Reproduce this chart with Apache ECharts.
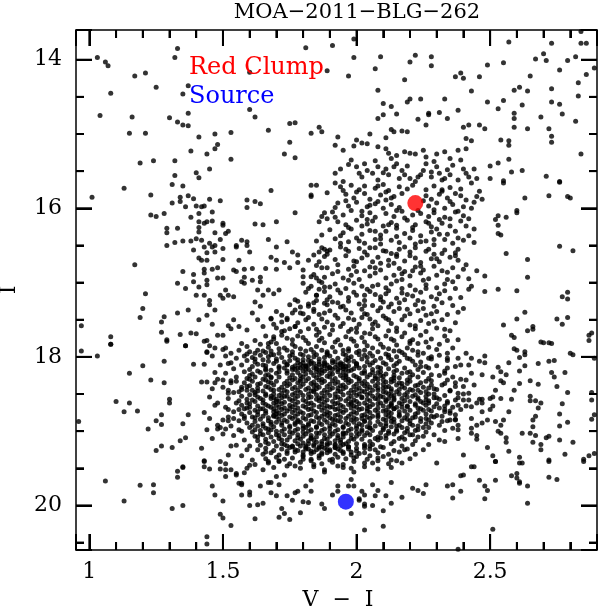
<!DOCTYPE html>
<html><head><meta charset="utf-8">
<script src="https://cdn.jsdelivr.net/npm/echarts@6/dist/echarts.min.js"></script>
<style>html,body{margin:0;padding:0;background:#fff}#c{width:600px;height:612px}</style>
</head><body><div id="c"></div>
<script>
const titleText = 'MOA\u22122011\u2212BLG\u2212262';
const xName = 'V  \u2212  I';
const yName = 'I';
const legendRed = 'Red Clump';
const legendBlue = 'Source';
const xMajorTicks = [1, 1.5, 2, 2.5];
const xMinorTicks = [1.0,1.1,1.2,1.3,1.4,1.5,1.6,1.7,1.8,1.9,2.0,2.1,2.2,2.3,2.4,2.5,2.6,2.7,2.8,2.9];
const yMajorTicks = [14, 16, 18, 20];
const yMinorTicks = [14,14.5,15,15.5,16,16.5,17,17.5,18,18.5,19,19.5,20,20.5];
const redClump = [[2.22, 15.93]];
const source = [[1.96, 19.95]];

const fieldTop = [
1.03,13.97,1.06,14.03,1.07,14.08,1.08,14.45,1.04,14.75,1.17,14.22,1.21,14.18,1.25,14.37,1.16,14.77,1.15,14.99,1.21,14.99,1.19,15.39,1.24,15.36,
1.33,13.85,1.32,13.97,1.35,14.46,1.37,14.35,1.30,14.78,1.33,14.84,1.35,14.88,1.37,14.72,1.37,14.89,1.41,15.04,1.47,15.00,1.53,14.98,1.38,15.23,
1.44,15.27,1.47,15.20,1.48,15.14,1.53,15.34,1.32,15.36,1.45,15.47,1.40,15.52,1.41,15.59,1.32,15.56,1.60,14.17,1.60,14.67,1.62,14.77,1.67,14.95,
1.75,14.86,1.77,14.85,1.75,15.11,1.73,15.27,1.77,15.32,1.81,13.84,1.91,13.81,1.89,14.15,1.99,13.72,1.99,13.97,1.97,14.22,2.07,14.12,2.09,13.96,
2.08,14.41,2.18,14.27,2.20,14.03,2.22,13.94,2.28,13.96,2.28,14.08,2.37,14.23,2.39,14.18,2.40,14.25,2.46,14.23,2.43,14.42,2.49,14.07,2.55,14.04,
2.57,13.76,2.59,14.41,2.61,14.37,2.64,14.42,2.65,14.22,2.70,13.92,2.67,13.99,2.71,14.01,2.73,13.78,2.73,14.39,2.76,14.14,2.79,14.01,2.82,13.96,
2.84,13.62,2.84,13.78,2.86,13.78,2.83,14.31,2.86,14.20,2.89,14.11,2.62,14.61,2.59,14.79,2.59,14.91,2.73,14.57,2.76,14.60,2.69,14.77,2.77,14.73,
2.83,14.49,2.82,14.83,2.54,15.08,2.62,15.49,2.50,15.60,2.55,15.63,2.10,14.74,2.08,14.79,2.27,14.74,1.87,14.97,2.00,15.08,
2.10,14.59,2.13,14.63,2.15,14.73,2.20,14.53,2.24,14.53,2.19,14.57,2.23,14.80,2.27,14.72,2.26,14.88,2.31,14.71,2.33,14.53,2.34,14.79,2.38,14.68,
2.40,14.91,2.42,14.88,2.46,14.88,2.48,14.93,2.49,14.57,2.53,14.66,2.55,14.55,2.59,14.72,1.83,14.99,1.86,14.91,1.93,15.04,1.92,15.15,1.95,15.22,
1.99,15.16,2.02,15.12,2.05,15.00,2.11,15.05,2.13,14.94,2.14,14.97,2.17,14.96,2.19,14.97,2.04,15.13,2.08,15.17,2.11,15.20,2.12,15.26,2.15,15.29,
2.18,15.24,2.20,15.26,2.22,15.27,2.25,15.22,2.26,15.31,2.30,15.27,2.33,15.24,2.35,15.33,2.38,15.22,2.39,15.35,2.41,15.06,2.43,15.09,2.41,15.20,
2.44,15.47,2.50,15.43,2.53,15.39,2.57,15.34,2.58,15.51,2.57,15.09,2.57,15.15,2.64,14.93,2.72,14.93,2.73,15.03,2.73,15.11,2.84,15.27,2.71,15.57,
2.76,15.65,2.79,15.84,2.80,15.86
];

const giantBranch = [
1.92,15.53,1.92,15.66,1.95,15.64,1.98,15.35,2.00,15.44,2.01,15.53,2.03,15.40,2.04,15.49,2.06,15.53,2.08,15.44,2.08,15.62,2.11,15.47,2.12,15.55,
2.14,15.44,2.15,15.40,2.17,15.49,2.18,15.55,2.20,15.60,2.22,15.64,2.23,15.58,2.25,15.49,2.26,15.40,2.28,15.51,2.30,15.44,2.31,15.53,2.33,15.60,
2.34,15.48,2.35,15.55,2.38,15.62,2.40,15.47,2.42,15.58,2.43,15.66,1.85,15.69,1.83,15.84,1.89,15.79,
1.94,15.71,1.98,15.69,2.01,15.75,2.03,15.70,2.07,15.73,2.10,15.68,2.12,15.76,2.16,15.71,2.19,15.74,2.21,15.69,2.26,15.75,2.29,15.70,2.32,15.77,2.35,15.72,2.39,15.74,2.46,15.77,
1.96,15.81,1.99,15.86,2.03,15.80,2.05,15.88,2.09,15.82,2.11,15.89,2.14,15.84,2.17,15.80,2.26,15.83,2.28,15.88,2.31,15.81,2.34,15.86,2.37,15.80,2.41,15.89,2.45,15.84,
1.93,15.93,1.97,15.97,2.00,15.92,2.04,15.98,2.07,15.94,2.10,16.00,2.13,15.95,2.16,15.99,2.27,15.97,2.30,15.93,2.33,16.00,2.36,15.95,2.40,15.98,2.44,15.92,
1.91,16.05,1.95,16.09,1.98,16.03,2.02,16.10,2.05,16.06,2.07,16.12,2.11,16.07,2.14,16.11,2.17,16.04,2.21,16.09,2.23,16.03,2.27,16.11,2.29,16.06,2.33,16.12,2.37,16.05,2.40,16.10,2.42,16.14,
1.93,16.18,1.96,16.22,2.00,16.16,2.04,16.21,2.06,16.17,2.10,16.24,2.13,16.19,2.15,16.23,2.19,16.16,2.22,16.22,2.26,16.18,2.28,16.25,2.32,16.20,2.35,16.24,2.39,16.17,
1.90,16.29,1.95,16.33,1.98,16.28,2.02,16.35,2.05,16.30,2.09,16.36,2.11,16.31,2.15,16.27,2.18,16.34,2.21,16.30,2.24,16.37,2.28,16.32,2.30,16.28,2.34,16.35,2.37,16.31,2.42,16.37,
1.92,16.41,1.97,16.45,2.00,16.40,2.03,16.47,2.07,16.42,2.09,16.48,2.13,16.43,2.16,16.46,2.20,16.40,2.22,16.48,2.26,16.44,2.29,16.49,2.33,16.42,2.36,16.47,2.40,16.43,
1.87,16.53,1.90,16.56,1.94,16.52,1.97,16.58,2.01,16.54,2.03,16.59,2.07,16.53,2.10,16.57,2.13,16.61,2.16,16.55,2.20,16.59,2.22,16.53,2.26,16.58,2.29,16.62,2.33,16.56,2.37,16.60,
1.88,16.65,1.92,16.69,1.96,16.64,1.99,16.71,2.02,16.67,2.06,16.72,2.08,16.66,2.12,16.70,2.15,16.65,2.18,16.71,2.22,16.67,2.24,16.73,2.28,16.68,2.31,16.72,2.35,16.66,2.38,16.70,
1.85,16.77,1.89,16.80,1.93,16.76,1.97,16.82,1.99,16.78,2.03,16.84,2.05,16.79,2.09,16.83,2.12,16.77,2.16,16.81,2.18,16.85,2.22,16.79,2.25,16.83,2.29,16.78,2.32,16.84,2.36,16.80,
1.84,16.89,1.88,16.93,1.91,16.88,1.95,16.94,1.98,16.90,2.01,16.96,2.05,16.91,2.07,16.87,2.11,16.94,2.14,16.90,2.17,16.96,2.20,16.91,2.24,16.87,2.27,16.95,2.30,16.90,2.34,16.96,2.38,16.92,
1.80,17.01,1.83,17.05,1.87,17.00,1.90,17.06,1.92,17.02,1.96,17.08,1.99,17.01,2.02,17.05,2.04,17.09,2.08,17.03,2.11,17.07,2.13,17.02,2.17,17.08,2.20,17.04,2.22,17.10,2.26,17.03,2.30,17.07,2.33,17.02,2.37,17.08,
1.81,17.13,1.85,17.17,1.88,17.12,1.90,17.19,1.94,17.14,1.97,17.20,1.99,17.13,2.03,17.17,2.05,17.12,2.09,17.19,2.11,17.15,2.15,17.21,2.17,17.14,2.21,17.18,2.24,17.13,2.28,17.19,2.31,17.15,2.35,17.21,
1.78,17.25,1.82,17.29,1.85,17.24,1.89,17.30,1.91,17.26,1.95,17.32,1.97,17.25,2.01,17.29,2.03,17.24,2.06,17.31,2.10,17.26,2.12,17.33,2.16,17.27,2.18,17.23,2.22,17.30,2.25,17.26,2.29,17.32,2.32,17.27,2.36,17.31,
1.77,17.37,1.80,17.42,1.84,17.36,1.86,17.43,1.90,17.38,1.92,17.44,1.96,17.37,1.98,17.41,2.02,17.36,2.04,17.43,2.08,17.38,2.10,17.45,2.14,17.39,2.16,17.35,2.20,17.42,2.23,17.38,2.26,17.44,2.30,17.39,2.34,17.43,
1.68,17.49,1.72,17.53,1.74,17.48,1.78,17.54,1.81,17.50,1.84,17.56,1.87,17.49,1.89,17.53,1.93,17.48,1.95,17.55,1.99,17.50,2.01,17.56,2.05,17.49,2.07,17.53,2.11,17.48,2.13,17.55,2.17,17.50,2.20,17.57,2.24,17.51,2.27,17.55,2.32,17.50,2.37,17.54,
1.70,17.61,1.73,17.65,1.77,17.59,1.79,17.66,1.82,17.62,1.86,17.67,1.88,17.60,1.91,17.64,1.94,17.59,1.97,17.66,2.00,17.61,2.03,17.68,2.06,17.62,2.08,17.58,2.12,17.65,2.15,17.61,2.18,17.68,2.22,17.62,2.26,17.66,2.30,17.61,2.35,17.65,
1.66,17.72,1.69,17.76,1.72,17.71,1.76,17.77,1.78,17.72,1.81,17.78,1.85,17.71,1.87,17.75,1.90,17.70,1.93,17.77,1.96,17.73,1.99,17.79,2.02,17.74,2.05,17.69,2.08,17.76,2.11,17.72,2.14,17.78,2.17,17.73,2.21,17.77,2.24,17.71,2.28,17.76,2.33,17.72,2.38,17.77,
1.64,17.83,1.67,17.87,1.70,17.82,1.73,17.88,1.76,17.83,1.79,17.89,1.82,17.82,1.85,17.86,1.88,17.81,1.91,17.87,1.94,17.84,1.97,17.89,2.00,17.85,2.03,17.80,2.06,17.88,2.09,17.83,2.12,17.89,2.15,17.84,2.19,17.88,2.23,17.82,2.27,17.87,2.31,17.83,2.36,17.88,
1.95,15.76,2.08,15.91,2.31,16.15,2.18,16.52,1.94,16.47,2.09,16.74,2.25,16.97,1.86,17.09,2.13,17.29,2.02,17.47,1.98,17.63,2.20,17.82,2.38,16.55,
2.41,16.76,2.43,17.05,2.40,17.35,1.82,16.70,1.80,16.92,1.87,16.36,1.89,16.14,2.44,16.28,2.15,16.62,2.00,16.85,2.28,17.42,1.93,17.27
];

const giantBranchExtra = [
1.97,15.41,2.02,15.58,2.07,15.36,2.10,15.52,2.16,15.60,2.19,15.43,2.24,15.55,2.29,15.37,2.32,15.62,2.36,15.42,2.41,15.53,2.45,15.60,1.94,15.47,2.13,15.33,2.28,15.58,
1.96,15.90,2.00,15.78,2.05,15.96,2.08,15.70,2.13,15.86,2.15,16.03,2.25,15.90,2.29,16.02,2.32,15.75,2.35,15.91,2.39,15.83,2.43,16.00,2.47,15.88,1.92,15.99,2.02,16.04,2.11,15.78,2.38,16.04,2.24,16.07,
1.92,16.12,1.97,16.26,2.01,16.44,2.04,16.15,2.07,16.31,2.12,16.22,2.15,16.38,2.18,16.13,2.21,16.26,2.24,16.45,2.27,16.20,2.31,16.35,2.35,16.14,2.38,16.40,2.41,16.24,2.44,16.46,1.94,16.37,2.09,16.41,2.29,16.42,2.02,16.24,
1.89,16.62,1.93,16.85,1.96,16.55,2.00,16.72,2.04,16.63,2.07,16.80,2.11,16.58,2.14,16.74,2.17,16.88,2.20,16.64,2.24,16.78,2.27,16.55,2.30,16.68,2.34,16.86,2.37,16.64,2.40,16.82,1.87,16.80,2.05,16.53,2.21,16.84,2.32,16.61,
1.82,17.08,1.86,16.98,1.89,17.23,1.93,17.10,1.97,16.97,2.00,17.17,2.03,17.31,2.06,17.05,2.09,17.23,2.12,17.11,2.15,16.98,2.19,17.16,2.23,17.24,2.26,17.08,2.30,17.22,2.33,17.11,2.36,16.99,2.39,17.20,1.84,17.27,2.07,17.16,
1.72,17.44,1.75,17.62,1.79,17.33,1.82,17.47,1.85,17.63,1.88,17.41,1.91,17.57,1.94,17.33,1.97,17.48,2.00,17.67,2.03,17.42,2.06,17.56,2.09,17.34,2.12,17.50,2.15,17.66,2.18,17.45,2.22,17.58,2.25,17.35,2.29,17.52,2.33,17.63,2.38,17.40,1.69,17.56,1.76,17.41,2.19,17.36,
1.62,17.78,1.65,17.92,1.68,17.80,1.71,17.89,1.74,17.75,1.77,17.86,1.80,17.74,1.83,17.90,1.86,17.78,1.89,17.93,1.92,17.80,1.95,17.91,1.98,17.76,2.01,17.92,2.04,17.85,2.07,17.73,2.10,17.87,2.13,17.76,2.16,17.92,2.20,17.79,2.23,17.93,2.26,17.80,2.30,17.90,2.34,17.78
];

const leftPlume = [
1.01,15.85,1.13,15.73,1.23,15.82,1.17,16.76,1.21,17.15,1.20,17.35,1.19,17.47,1.08,17.73,1.08,17.83,0.97,17.58,1.23,16.09,1.25,16.11,1.28,16.07,
1.31,15.68,1.35,15.70,1.31,15.93,1.34,15.85,1.34,15.91,1.37,15.83,1.39,15.87,1.36,15.98,1.40,15.97,1.42,15.98,1.43,15.97,1.41,16.07,1.38,16.12,
1.46,16.05,1.45,15.88,1.49,15.90,1.29,16.27,1.29,16.33,1.33,16.27,1.29,16.50,1.32,16.46,1.35,16.44,1.38,16.44,1.40,16.41,1.42,16.43,1.41,16.26,
1.41,16.32,1.41,16.18,1.43,16.20,1.44,16.18,1.46,16.17,1.47,16.33,1.50,16.20,1.50,16.23,1.52,16.31,1.51,16.34,1.49,16.42,1.50,16.54,1.47,16.50,
1.45,16.47,1.46,16.52,1.43,16.52,1.39,16.56,1.44,16.60,1.47,16.59,1.41,16.67,1.42,16.70,1.44,16.70,1.50,16.69,1.48,16.80,1.46,16.82,1.43,16.82,
1.43,16.87,1.39,16.89,1.35,16.85,1.33,17.01,1.36,17.08,1.39,16.99,1.41,17.06,1.44,16.97,1.44,17.03,1.48,16.94,1.50,16.94,1.51,17.10,1.49,17.17,
1.50,17.21,1.52,17.17,1.54,17.19,1.43,17.17,1.40,17.17,1.45,17.24,1.45,17.30,1.47,17.37,1.44,17.44,1.37,17.37,1.33,17.41,1.41,17.50,1.46,17.56,
1.52,17.58,1.53,17.62,1.48,17.71,1.50,17.71,1.47,17.88,1.44,17.93,1.51,17.88,1.44,17.78,1.38,17.68,1.40,17.69,1.34,17.70,1.27,17.53,1.27,17.67,
1.29,17.77,1.36,17.85,1.28,17.46,1.55,16.50,1.55,16.52,1.57,16.43,1.59,16.45,1.59,16.50,1.60,16.59,1.56,16.70,1.54,16.83,1.55,16.85,1.58,16.82,
1.61,16.81,1.58,16.93,1.57,16.99,1.58,17.01,1.61,16.97,1.64,16.93,1.64,16.99,1.66,16.81,1.68,16.66,1.70,16.70,1.73,16.73,1.70,16.82,1.75,16.80,
1.78,16.73,1.80,16.83,1.76,16.59,1.78,16.63,1.74,16.45,1.70,16.52,1.67,16.42,1.59,15.89,1.59,15.99,1.62,15.91,1.64,15.94,1.62,16.21,1.65,16.22,
1.68,15.76,1.70,16.18,1.77,16.06,1.83,15.69,1.83,15.82,1.86,16.18,1.87,16.11,1.88,16.06,1.85,16.44,1.88,16.55,1.86,16.59,1.84,16.63,1.86,16.72,
1.89,16.58,1.83,16.92,1.85,16.94,1.65,17.17,1.67,17.10,1.69,17.15,1.71,17.10,1.63,17.10,1.62,17.26,1.64,17.32,1.61,17.41,1.63,17.50,1.59,17.64,
1.56,17.59,1.54,17.50,1.57,17.82,1.59,17.86,1.62,17.95,1.67,17.82,1.69,17.73,1.72,17.66,1.77,17.59,1.74,17.50,1.79,17.41,1.82,17.32,1.84,17.39,
1.77,17.23,1.75,17.30,1.85,17.17,1.88,17.06,1.88,17.28,1.70,17.39,1.68,17.48,1.65,17.59
];

const leftLower = [
0.97,17.92,1.03,17.99,1.08,17.83,0.96,18.87,1.15,18.22,1.20,18.12,1.23,18.31,1.28,18.35,1.28,18.06,1.10,18.60,1.15,18.62,1.13,18.74,1.18,18.73,
1.30,18.57,1.30,18.62,1.29,17.79,1.36,17.85,1.43,17.79,1.45,17.85,1.44,17.94,1.46,17.99,1.39,18.10,1.43,18.10,1.47,18.21,1.42,18.34,1.44,18.34,
1.47,18.35,1.46,18.43,1.45,18.54,1.48,18.62,1.37,18.78,1.43,18.75,1.27,18.78,1.25,18.86,1.27,18.91,1.22,18.97,1.35,18.90,1.45,18.83,1.44,18.98,
1.36,19.09,1.34,19.13,1.31,19.22,1.27,19.20,1.25,19.26,1.42,19.23,1.43,19.40,1.43,19.48,1.45,19.51,1.35,19.49,1.33,19.54,1.33,19.62,1.06,19.67,
1.19,19.73,1.24,19.72,1.46,19.74,1.48,18.92,1.50,18.85,1.52,18.86,1.48,18.97,1.50,19.04,1.51,18.97,1.53,19.20,1.52,19.32,1.49,19.41,1.51,19.44,
1.49,19.51,1.51,19.61,1.55,19.57,1.57,19.70,1.50,17.90,1.51,17.99,1.49,18.11,1.53,18.08,1.50,18.31,1.52,18.45,1.52,18.49,1.53,18.32,1.55,18.33,
1.52,18.71,1.54,18.83
];

const bottomField = [
1.13,19.94,1.24,19.83,1.35,19.48,1.31,20.04,1.35,20.00,1.43,19.41,1.44,20.42,1.44,20.52,1.47,19.86,1.50,19.94,1.49,20.12,1.50,20.17,1.53,20.27,
1.51,19.52,1.53,19.52,1.55,19.59,1.56,19.70,1.57,19.72,1.59,19.50,1.58,19.56,1.57,19.86,1.60,19.82,1.60,20.00,1.60,19.86,1.62,20.18,1.63,19.99,
1.65,19.97,1.64,19.74,1.67,19.69,1.68,19.69,1.65,19.52,1.67,19.41,1.68,19.83,1.70,19.87,1.71,20.16,1.72,20.04,1.73,20.11,1.74,19.87,1.75,20.19,
1.76,19.93,1.77,19.83,1.78,19.81,1.79,20.10,1.71,19.72,1.70,19.61,1.73,19.59,1.80,19.95,1.82,19.96,1.83,19.81,1.81,19.74,1.83,19.66,1.87,19.98,
1.88,20.04,1.91,19.86,1.93,19.81,1.93,19.74,1.97,19.74,1.98,19.65,1.99,19.74,2.01,19.91,2.02,19.81,2.03,19.86,1.98,20.11,2.01,19.93,2.03,20.01,
2.03,19.98,2.06,20.00,2.03,20.33,2.06,19.72,2.07,19.87,2.08,19.80,2.10,20.07,2.11,19.87,2.10,20.28,2.13,19.69,2.13,19.97,2.17,19.89,2.21,19.77,
2.23,19.80,2.25,19.84,2.26,19.72,2.27,20.15,2.30,19.43,2.34,19.74,2.36,19.72,2.36,19.90,2.39,19.81,2.39,19.60,2.40,19.59,2.43,19.48,2.46,19.66,
2.48,19.74,2.49,19.80,2.48,19.91,2.51,20.32,2.52,19.66,2.58,19.60,2.60,19.57,2.61,19.68,2.64,19.74,2.64,19.97,2.72,19.62,2.75,19.65,2.38,20.59,
2.52,19.41,2.62,19.43,2.72,19.41,2.85,19.41
];

const rightSide = [
2.55,15.66,2.76,15.64,2.72,15.83,2.63,15.86,2.60,16.03,2.60,16.06,2.56,16.12,2.53,16.10,2.52,16.15,2.53,16.23,2.53,16.34,2.54,16.36,2.56,16.61,
2.76,16.51,2.81,16.57,2.64,16.69,2.64,16.93,2.53,17.09,2.60,17.11,2.48,17.12,2.77,17.19,2.79,17.13,2.79,17.22,2.63,17.40,2.60,17.49,2.55,17.57,
2.66,17.59,2.66,17.63,2.58,17.71,2.59,17.74,2.64,17.65,2.70,17.81,2.73,17.82,2.75,17.49,2.79,17.47,2.77,17.56,2.87,17.71,2.88,17.68,2.87,17.78,
2.60,17.91,2.63,17.97,2.81,17.97,2.89,18.02,2.45,16.84,2.42,16.95,2.42,17.09,2.48,16.91,
2.59,17.89,2.63,17.93,2.61,18.01,2.69,17.80,2.72,17.81,2.80,17.95,2.57,18.08,2.53,18.14,2.54,18.20,2.56,18.24,2.51,18.27,2.54,18.32,2.55,18.35,
2.61,18.19,2.63,18.12,2.68,18.09,2.72,18.06,2.74,18.05,2.73,18.21,2.74,18.27,2.78,18.21,2.75,18.40,2.79,18.48,2.88,18.48,2.88,18.58,2.89,18.78,
2.88,18.84,2.65,18.32,2.68,18.37,2.65,18.53,2.65,18.59,2.67,18.59,2.69,18.62,2.59,18.45,2.61,18.36,2.58,18.57,2.54,18.56,2.52,18.45,2.50,18.56,
2.51,18.66,2.50,18.71,2.47,18.57,2.47,18.62,2.57,18.74,2.68,18.69,2.67,18.80,2.66,18.85,2.77,18.63,2.76,18.77,2.79,18.88,2.76,18.93,2.66,18.94,
2.55,18.85,2.54,18.92,2.53,19.00,2.54,19.03,2.56,19.09,2.56,19.15,2.62,19.03,2.65,19.03,2.67,19.06,2.66,19.15,2.69,19.18,2.69,19.25,2.71,19.09,
2.72,19.07,2.76,19.12,2.81,19.15,2.78,19.31,2.72,19.39,2.85,19.38,2.87,19.33,2.89,19.30,2.61,19.35,2.61,19.43,2.57,19.27,2.51,19.33,2.52,19.41,
2.49,19.22,2.45,19.06,2.45,19.11,2.44,19.48,2.60,19.63,2.61,19.70,2.40,19.32,2.38,19.10,2.33,19.14,2.49,18.85,2.47,18.89,2.43,19.03,2.43,18.96,
2.45,18.92,2.43,18.83,2.52,18.87,2.47,18.24,2.51,18.54,2.48,17.99,2.48,18.08,2.46,18.06,2.43,18.02,2.42,18.11,2.39,18.11,2.37,18.13,2.38,18.02,
2.34,18.02,2.34,17.95,2.41,17.95,2.43,18.22,2.41,18.31,2.39,18.30,2.40,18.40,2.37,18.35,2.36,18.27,2.34,18.15,2.33,18.22,2.35,18.45,2.38,18.49,
2.40,18.50,2.42,18.49,2.44,18.38,2.42,18.58,2.40,18.58,2.41,18.66,2.43,18.67,2.45,18.62,2.46,18.57,2.47,18.74,2.39,18.71,2.37,18.78,2.35,18.76,
2.33,18.74,2.35,18.85,2.37,18.85,2.38,18.92,2.36,18.96,2.38,18.98,2.34,18.62,2.33,18.71,2.32,18.87,2.33,18.36,2.37,18.58,2.38,18.65
];

const blobInner = [
1.60,17.93,1.63,17.91,1.66,17.94,1.68,17.92,1.71,17.95,1.74,17.91,1.76,17.93,1.79,17.96,1.81,17.92,1.84,17.94,1.87,17.91,1.89,17.95,1.92,17.93,1.95,17.96,1.97,17.92,2.00,17.94,2.03,17.91,2.05,17.95,2.08,17.93,2.11,17.96,2.14,17.92,2.17,17.94,2.21,17.91,2.25,17.95,
1.58,17.99,1.61,18.01,1.64,17.98,1.67,18.00,1.69,17.97,1.72,18.01,1.75,17.99,1.77,18.02,1.80,17.98,1.82,18.00,1.85,17.97,1.88,18.01,1.90,17.99,1.93,18.02,1.96,17.98,1.98,18.00,2.01,17.97,2.04,18.01,2.06,17.99,2.09,18.02,2.12,17.98,2.15,18.00,2.19,18.02,2.23,17.98,2.28,18.00,
1.59,18.05,1.62,18.07,1.65,18.04,1.67,18.06,1.70,18.03,1.73,18.07,1.75,18.05,1.78,18.08,1.80,18.04,1.83,18.06,1.86,18.03,1.88,18.07,1.91,18.05,1.94,18.08,1.96,18.04,1.99,18.06,2.02,18.03,2.04,18.07,2.07,18.05,2.10,18.08,2.13,18.04,2.16,18.06,2.20,18.03,2.24,18.07,
1.57,18.11,1.61,18.13,1.63,18.10,1.66,18.12,1.69,18.09,1.71,18.13,1.74,18.11,1.76,18.14,1.79,18.10,1.81,18.12,1.84,18.09,1.87,18.13,1.89,18.11,1.92,18.14,1.95,18.10,1.97,18.12,2.00,18.09,2.03,18.13,2.05,18.11,2.08,18.14,2.11,18.10,2.14,18.12,2.18,18.15,2.22,18.11,2.26,18.13,
1.60,18.17,1.63,18.19,1.66,18.16,1.68,18.18,1.71,18.15,1.74,18.19,1.77,18.17,1.79,18.15,1.82,18.17,1.85,18.16,1.87,18.18,1.90,18.15,1.93,18.17,1.95,18.16,1.98,18.18,2.01,18.15,2.03,18.19,2.06,18.17,2.09,18.20,2.12,18.16,2.15,18.18,2.19,18.21,2.23,18.17,
1.61,18.23,1.64,18.21,1.67,18.24,1.70,18.22,1.74,18.22,2.02,18.22,2.05,18.24,2.08,18.21,2.11,18.23,2.14,18.25,2.17,18.22,2.21,18.24,2.25,18.21,
1.59,18.29,1.62,18.27,1.65,18.30,1.68,18.28,1.71,18.27,2.04,18.27,2.07,18.29,2.10,18.26,2.13,18.30,2.16,18.28,2.19,18.31,2.23,18.27,2.27,18.29,
1.58,18.35,1.61,18.33,1.64,18.36,1.67,18.34,1.70,18.33,2.06,18.33,2.08,18.36,2.11,18.34,2.14,18.32,2.17,18.36,2.20,18.33,2.24,18.35,2.28,18.32,
1.57,18.41,1.60,18.39,1.63,18.42,1.66,18.40,1.69,18.38,2.07,18.39,2.10,18.42,2.12,18.40,2.15,18.38,2.18,18.42,2.22,18.39,2.25,18.41,2.29,18.43,
1.56,18.47,1.59,18.45,1.62,18.48,1.65,18.46,1.68,18.44,2.08,18.45,2.11,18.48,2.13,18.46,2.16,18.44,2.19,18.48,2.23,18.45,2.26,18.47,2.30,18.44,
1.57,18.53,1.60,18.51,1.63,18.54,1.66,18.52,1.69,18.50,2.08,18.51,2.10,18.54,2.13,18.52,2.16,18.50,2.19,18.54,2.22,18.51,2.26,18.53,2.29,18.55,
1.56,18.59,1.59,18.57,1.62,18.60,1.65,18.58,1.68,18.56,2.08,18.57,2.11,18.60,2.14,18.58,2.17,18.56,2.20,18.60,2.23,18.57,2.27,18.59,2.31,18.57,
1.57,18.65,1.60,18.63,1.63,18.66,1.66,18.64,1.69,18.62,2.08,18.63,2.10,18.66,2.13,18.64,2.16,18.62,2.19,18.66,2.22,18.63,2.26,18.65,2.30,18.63,
1.56,18.71,1.59,18.69,1.62,18.72,1.65,18.70,1.68,18.68,2.08,18.69,2.11,18.72,2.14,18.70,2.17,18.68,2.20,18.72,2.23,18.69,2.27,18.71,2.31,18.69,
1.57,18.77,1.60,18.75,1.63,18.78,1.66,18.76,1.69,18.74,2.08,18.75,2.11,18.78,2.13,18.76,2.16,18.74,2.19,18.78,2.23,18.75,2.26,18.77,2.30,18.79,
1.58,18.83,1.61,18.81,1.64,18.84,1.67,18.82,1.69,18.80,2.08,18.81,2.10,18.84,2.13,18.82,2.16,18.80,2.19,18.84,2.22,18.81,2.26,18.83,2.29,18.81,
1.59,18.89,1.62,18.87,1.65,18.90,1.68,18.88,2.08,18.87,2.11,18.90,2.14,18.88,2.17,18.86,2.20,18.90,2.24,18.87,2.28,18.89,
1.60,18.95,1.63,18.93,1.66,18.96,1.69,18.94,2.07,18.93,2.10,18.96,2.13,18.94,2.16,18.92,2.19,18.96,2.23,18.93,2.27,18.95,
1.61,19.01,1.64,18.99,1.67,19.02,1.70,19.00,2.06,18.99,2.09,19.02,2.12,19.00,2.15,18.98,2.18,19.02,2.22,18.99,2.26,19.01,
1.62,19.07,1.65,19.05,1.68,19.08,1.71,19.06,2.05,19.05,2.08,19.08,2.11,19.06,2.14,19.04,2.17,19.08,2.21,19.05,2.25,19.07,
1.63,19.13,1.66,19.11,1.69,19.14,1.72,19.12,1.74,19.12,2.02,19.11,2.05,19.14,2.08,19.12,2.11,19.10,2.14,19.14,2.18,19.11,2.22,19.13,
1.64,19.19,1.67,19.17,1.70,19.20,1.73,19.18,1.76,19.21,1.78,19.17,1.81,19.20,1.84,19.18,1.86,19.21,1.89,19.17,1.92,19.19,1.95,19.18,1.97,19.21,2.00,19.17,2.03,19.20,2.06,19.18,2.09,19.21,2.13,19.17,2.17,19.20,2.21,19.18,
1.63,19.25,1.66,19.23,1.69,19.26,1.72,19.24,1.75,19.22,1.78,19.26,1.81,19.24,1.83,19.27,1.86,19.23,1.89,19.25,1.92,19.22,1.94,19.26,1.97,19.24,2.00,19.27,2.03,19.23,2.07,19.25,2.10,19.22,2.14,19.26,2.19,19.24,
1.65,19.31,1.68,19.29,1.71,19.32,1.74,19.30,1.77,19.28,1.80,19.32,1.83,19.30,1.86,19.33,1.89,19.29,1.92,19.31,1.95,19.28,1.98,19.32,2.01,19.30,2.05,19.33,2.08,19.29,2.12,19.31,2.16,19.28,
1.66,19.37,1.70,19.35,1.73,19.38,1.76,19.36,1.80,19.34,1.83,19.38,1.86,19.36,1.90,19.39,1.93,19.35,1.96,19.37,2.00,19.34,2.04,19.38,2.08,19.36,2.13,19.39,
1.67,19.43,1.71,19.41,1.75,19.44,1.79,19.42,1.83,19.40,1.87,19.44,1.91,19.42,1.95,19.45,1.99,19.41,2.03,19.43,2.08,19.40,2.12,19.44,
1.69,19.49,1.74,19.47,1.79,19.50,1.84,19.48,1.88,19.52,1.93,19.47,1.98,19.50,2.03,19.48,2.08,19.51
];

const blobInnerExtra = [
1.59,17.96,1.62,18.03,1.65,18.11,1.68,17.97,1.70,18.06,1.73,18.15,1.76,17.97,1.78,18.04,1.81,18.13,1.84,18.00,1.86,18.10,1.89,17.97,1.92,18.07,
1.95,18.13,1.97,18.02,2.00,18.12,2.03,17.98,2.06,18.08,2.09,18.15,2.12,18.01,2.15,18.09,2.18,17.97,2.21,18.06,2.24,18.13,2.27,18.02,
1.60,18.25,1.63,18.37,1.66,18.31,1.69,18.45,1.62,18.51,1.65,18.62,1.68,18.53,1.60,18.68,1.63,18.74,1.67,18.86,1.70,18.77,1.61,18.92,1.64,19.04,
1.68,18.98,1.71,19.10,1.58,18.80,1.59,18.40,1.66,19.15,
2.07,18.26,2.10,18.31,2.13,18.43,2.16,18.35,2.18,18.51,2.21,18.45,2.24,18.60,2.12,18.56,2.15,18.68,2.18,18.73,2.21,18.82,2.24,18.70,2.27,18.85,
2.12,18.80,2.15,18.93,2.19,19.00,2.23,19.08,2.09,19.09,2.27,18.50,2.29,18.67,2.25,18.95,2.20,18.20,2.28,18.24,2.14,18.20,
1.66,19.28,1.71,19.40,1.74,19.27,1.77,19.47,1.80,19.38,1.84,19.45,1.87,19.31,1.91,19.38,1.95,19.49,1.99,19.36,2.03,19.29,2.06,19.43,2.10,19.34,
2.15,19.40,2.18,19.25,1.88,19.55,1.99,19.55,1.76,19.20,2.05,19.20,
2.14,18.28,2.17,18.40,2.20,18.27,2.23,18.38,2.26,18.33,2.15,18.47,2.18,18.59,2.21,18.53,2.24,18.48,2.27,18.62,2.13,18.66,2.16,18.78,2.19,18.67,
2.22,18.77,2.25,18.72,2.28,18.80,2.14,18.84,2.17,18.95,2.20,18.86,2.23,18.98,2.26,18.90,2.12,19.03,2.16,19.10,2.20,19.05,2.11,18.41,2.14,18.52,
2.17,18.63,2.20,18.44,2.23,18.55,2.26,18.58,2.29,18.50,2.18,18.82,2.21,18.92,2.24,18.83,2.15,19.00,2.13,18.34,2.19,18.36,2.22,18.65,2.25,18.62,
2.28,18.73,2.30,18.55,2.27,18.42,
1.60,18.30,1.63,18.46,1.61,18.58,1.64,18.70,1.62,18.82,1.65,18.93,1.63,19.08,1.66,18.25,1.64,18.56,1.66,18.73,1.62,18.98,1.59,18.62,1.61,18.45
];

const blobOuter = [
1.53,17.95,1.55,18.02,1.52,18.09,1.54,18.16,1.51,18.22,1.55,18.27,1.53,18.35,1.50,18.41,1.54,18.48,1.52,18.56,1.55,18.62,1.51,18.68,1.54,18.74,
1.52,18.81,1.56,18.86,1.53,18.93,1.57,19.00,1.54,19.06,1.58,19.12,1.55,19.19,1.59,19.25,1.57,19.33,1.61,19.39,1.60,19.46,1.48,18.30,1.47,18.65,
1.49,18.95,1.46,19.10,1.56,17.91,1.58,18.20,1.57,18.44,1.58,18.70,1.56,18.98,1.60,19.20,1.62,19.45,
2.31,17.98,2.34,18.05,2.30,18.12,2.33,18.19,2.31,18.25,2.34,18.31,2.32,18.38,2.35,18.46,2.33,18.52,2.34,18.60,2.33,18.66,2.35,18.73,2.32,18.80,
2.34,18.86,2.31,18.92,2.33,18.99,2.29,19.05,2.31,19.12,2.27,19.18,2.25,19.25,2.22,19.31,2.20,19.37,2.17,19.43,2.13,19.49,2.37,18.40,2.38,18.55,
2.36,18.68,2.37,18.84,2.28,18.03,2.27,18.15,2.28,18.38
];

const blobCore = [
1.80,18.08,1.83,18.09,1.86,18.07,1.88,18.09,1.91,18.08,1.94,18.10,
1.77,18.12,1.80,18.13,1.82,18.11,1.85,18.13,1.88,18.12,1.90,18.14,1.93,18.11,1.96,18.13,
1.76,18.17,1.78,18.15,1.81,18.17,1.84,18.15,1.86,18.18,1.89,18.16,1.91,18.17,1.94,18.15,1.96,18.17,1.99,18.16,
1.78,18.21,1.80,18.19,1.83,18.21,1.85,18.20,1.88,18.19,1.90,18.22,1.93,18.20,1.95,18.21,1.97,18.19,
1.76,18.24,1.79,18.25,1.81,18.23,1.84,18.25,1.86,18.24,1.89,18.26,1.91,18.23,1.94,18.25,1.96,18.24,1.99,18.25,
1.75,18.28,1.77,18.29,1.80,18.27,1.82,18.29,1.85,18.28,1.87,18.30,1.90,18.27,1.92,18.29,1.95,18.28,1.97,18.30,2.00,18.27,2.01,18.29,
1.74,18.33,1.76,18.31,1.79,18.33,1.81,18.32,1.84,18.34,1.86,18.31,1.88,18.33,1.91,18.32,1.93,18.34,1.96,18.31,1.98,18.33,2.01,18.32,2.03,18.33,
1.73,18.36,1.75,18.37,1.78,18.35,1.80,18.37,1.83,18.36,1.85,18.38,1.87,18.35,1.90,18.37,1.92,18.36,1.95,18.38,1.97,18.35,2.00,18.37,2.02,18.36,2.04,18.37,
1.72,18.41,1.74,18.39,1.77,18.41,1.79,18.40,1.82,18.42,1.84,18.39,1.86,18.41,1.89,18.40,1.91,18.42,1.94,18.39,1.96,18.41,1.99,18.40,2.01,18.42,2.03,18.39,2.05,18.41,
1.71,18.44,1.73,18.45,1.76,18.43,1.78,18.45,1.81,18.44,1.83,18.46,1.85,18.43,1.88,18.45,1.90,18.44,1.93,18.46,1.95,18.43,1.98,18.45,2.00,18.44,2.02,18.46,2.04,18.43,2.06,18.45,
1.72,18.49,1.74,18.47,1.77,18.49,1.79,18.48,1.82,18.50,1.84,18.47,1.87,18.49,1.89,18.48,1.92,18.50,1.94,18.47,1.97,18.49,1.99,18.48,2.01,18.50,2.03,18.47,2.05,18.49,
1.71,18.52,1.73,18.53,1.76,18.51,1.78,18.53,1.80,18.52,1.83,18.54,1.85,18.51,1.88,18.53,1.90,18.52,1.93,18.54,1.95,18.51,1.98,18.53,2.00,18.52,2.02,18.54,2.04,18.51,2.06,18.53,
1.70,18.57,1.72,18.55,1.75,18.57,1.77,18.56,1.80,18.58,1.82,18.55,1.85,18.57,1.87,18.56,1.89,18.58,1.92,18.55,1.94,18.57,1.97,18.56,1.99,18.58,2.02,18.55,2.04,18.57,2.07,18.56,
1.71,18.60,1.73,18.61,1.76,18.59,1.78,18.61,1.81,18.60,1.83,18.62,1.86,18.59,1.88,18.61,1.91,18.60,1.93,18.62,1.96,18.59,1.98,18.61,2.00,18.60,2.03,18.62,2.05,18.59,
1.70,18.65,1.72,18.63,1.75,18.65,1.77,18.64,1.80,18.66,1.82,18.63,1.84,18.65,1.87,18.64,1.89,18.66,1.92,18.63,1.94,18.65,1.97,18.64,1.99,18.66,2.01,18.63,2.04,18.65,2.06,18.64,
1.71,18.68,1.73,18.69,1.76,18.67,1.78,18.69,1.81,18.68,1.83,18.70,1.86,18.67,1.88,18.69,1.90,18.68,1.93,18.70,1.95,18.67,1.98,18.69,2.00,18.68,2.02,18.70,2.05,18.67,
1.70,18.73,1.72,18.71,1.74,18.73,1.77,18.72,1.79,18.74,1.82,18.71,1.84,18.73,1.87,18.72,1.89,18.74,1.92,18.71,1.94,18.73,1.96,18.72,1.99,18.74,2.01,18.71,2.04,18.73,2.07,18.72,
1.71,18.76,1.73,18.77,1.76,18.75,1.78,18.77,1.80,18.76,1.83,18.78,1.85,18.75,1.88,18.77,1.90,18.76,1.93,18.78,1.95,18.75,1.98,18.77,2.00,18.76,2.03,18.78,2.05,18.75,
1.70,18.81,1.72,18.79,1.75,18.81,1.77,18.80,1.80,18.82,1.82,18.79,1.85,18.81,1.87,18.80,1.90,18.82,1.92,18.79,1.94,18.81,1.97,18.80,1.99,18.82,2.02,18.79,2.04,18.81,2.06,18.80,
1.71,18.84,1.73,18.85,1.76,18.83,1.78,18.85,1.81,18.84,1.83,18.86,1.86,18.83,1.88,18.85,1.91,18.84,1.93,18.86,1.96,18.83,1.98,18.85,2.00,18.84,2.03,18.86,2.05,18.83,
1.72,18.89,1.74,18.87,1.77,18.89,1.79,18.88,1.82,18.90,1.84,18.87,1.86,18.89,1.89,18.88,1.91,18.90,1.94,18.87,1.96,18.89,1.99,18.88,2.01,18.90,2.03,18.87,2.05,18.89,
1.72,18.92,1.75,18.93,1.77,18.91,1.80,18.93,1.82,18.92,1.85,18.94,1.87,18.91,1.90,18.93,1.92,18.92,1.95,18.94,1.97,18.91,2.00,18.93,2.02,18.92,2.04,18.94,
1.73,18.97,1.75,18.95,1.78,18.97,1.80,18.96,1.83,18.98,1.85,18.95,1.88,18.97,1.90,18.96,1.93,18.98,1.95,18.95,1.98,18.97,2.00,18.96,2.02,18.98,2.05,18.96,
1.72,19.00,1.75,19.01,1.77,18.99,1.80,19.01,1.82,19.00,1.85,19.02,1.87,18.99,1.90,19.01,1.92,19.00,1.95,19.02,1.97,18.99,2.00,19.01,2.02,19.00,2.04,19.02,
1.73,19.05,1.76,19.03,1.78,19.05,1.81,19.04,1.83,19.06,1.86,19.03,1.88,19.05,1.91,19.04,1.93,19.06,1.96,19.03,1.98,19.05,2.01,19.04,2.03,19.06,
1.75,19.08,1.78,19.09,1.80,19.07,1.83,19.09,1.85,19.08,1.88,19.10,1.90,19.07,1.93,19.09,1.95,19.08,1.98,19.10,2.00,19.07,
1.77,19.13,1.79,19.11,1.82,19.13,1.84,19.12,1.87,19.14,1.89,19.11,1.92,19.13,1.94,19.12,1.97,19.14,1.99,19.11,
1.80,19.16,1.82,19.17,1.85,19.15,1.87,19.17,1.90,19.16,1.92,19.18,1.94,19.15,1.96,19.17,
1.79,19.20,1.81,19.22,1.84,19.20,1.87,19.21,1.89,19.19,1.92,19.22,1.94,19.20,1.97,19.21,
1.82,19.24,1.85,19.25,1.88,19.23,1.90,19.25,1.93,19.24,1.84,19.28,1.87,19.29,1.90,19.27,
2.08,18.42,2.10,18.47,2.09,18.53,2.11,18.58,2.09,18.62,2.12,18.67,2.10,18.73,2.08,18.79,2.11,18.85,2.09,18.91
];

const blobCoreExtra = [
1.66,18.18,1.68,18.27,1.67,18.41,1.69,18.55,1.67,18.66,1.69,18.79,1.68,18.91,1.70,19.05,1.72,19.17,1.66,18.50,1.68,18.35,1.70,18.60,1.69,18.70,
1.70,18.88,1.67,18.97,1.65,18.80,2.06,18.21,2.08,18.30,2.10,18.37,2.12,18.50,2.13,18.62,2.12,18.74,2.13,18.87,2.10,18.98,2.07,19.10,2.05,19.24,
2.14,18.56,2.14,18.70,2.11,18.93,2.09,18.25,2.03,19.18,2.00,19.23,1.98,19.28,1.77,19.25,1.74,19.20,1.80,19.28,1.95,19.30,1.82,18.05,1.97,18.06,
1.74,18.10,2.00,18.10,1.71,18.20,2.03,18.22,1.79,18.30,1.93,18.42,1.86,18.55,1.98,18.63,1.75,18.70,1.89,18.79,2.02,18.83,1.81,18.95,1.95,19.04,
1.84,18.45,1.91,18.67,1.78,18.87,2.04,18.70,1.87,18.22,1.96,18.26,1.74,18.53,2.05,18.95,1.83,19.10,1.92,18.85
];

function pairs(a) { const r = []; for (let i = 0; i + 1 < a.length; i += 2) r.push([a[i], a[i + 1]]); return r; }
const stars = [].concat(pairs(fieldTop), pairs(giantBranch), pairs(giantBranchExtra), pairs(leftPlume), pairs(leftLower),
  pairs(bottomField), pairs(rightSide), pairs(blobOuter), pairs(blobInner), pairs(blobInnerExtra), pairs(blobCore), pairs(blobCoreExtra));

const FONT = '"DejaVu Serif", "Liberation Serif", serif';
const X_MIN = 0.95, X_MAX = 2.9, Y_MIN = 13.6, Y_MAX = 20.6;
const GRID = { left: 76, top: 30, width: 521, height: 520 };
const frameLine = { color: '#000', width: 1.5 };
const tickLine = { color: '#000', width: 2 };
const label = { fontFamily: FONT, fontSize: 22, color: '#000' };

// native axis ticks: splitNumber gives 0.5 / 0.1 steps on x and 2 / 0.5 steps on y from the fixed extents
function axisX(gi, pos, split, len, withLine, withLabel) {
  return { type: 'value', gridIndex: gi, position: pos, min: X_MIN, max: X_MAX, splitNumber: split,
    axisLine: { show: withLine, onZero: false, lineStyle: frameLine },
    axisTick: { show: true, inside: true, length: len, lineStyle: tickLine },
    axisLabel: withLabel ? Object.assign({ customValues: xMajorTicks, margin: 11 }, label) : { show: false },
    splitLine: { show: false } };
}
function axisY(gi, pos, split, len, withLine, withLabel) {
  return { type: 'value', gridIndex: gi, position: pos, min: Y_MIN, max: Y_MAX, inverse: true, splitNumber: split,
    axisLine: { show: withLine, onZero: false, lineStyle: frameLine },
    axisTick: { show: true, inside: true, length: len, lineStyle: tickLine },
    axisLabel: withLabel ? Object.assign({ customValues: yMajorTicks, margin: 14 }, label) : { show: false },
    splitLine: { show: false } };
}

// the same tick positions, also drawn as thin bar symbols anchored on the axis values
const TICK_W = 2;
const tickMarks = [];
xMinorTicks.forEach(function (v) {
  const len = xMajorTicks.indexOf(v) >= 0 ? 16 : 8;
  tickMarks.push({ value: [v, Y_MAX], symbolSize: [TICK_W, len], symbolOffset: [0, -len / 2] });
  tickMarks.push({ value: [v, Y_MIN], symbolSize: [TICK_W, len], symbolOffset: [0, len / 2] });
});
yMinorTicks.forEach(function (v) {
  const len = yMajorTicks.indexOf(v) >= 0 ? 16 : 8;
  tickMarks.push({ value: [X_MIN, v], symbolSize: [len, TICK_W], symbolOffset: [len / 2, 0] });
  tickMarks.push({ value: [X_MAX, v], symbolSize: [len, TICK_W], symbolOffset: [-len / 2, 0] });
});

const chart = echarts.init(document.getElementById('c'), null, { renderer: 'canvas' });
chart.setOption({
  animation: false,
  backgroundColor: '#fff',
  grid: [Object.assign({}, GRID), Object.assign({}, GRID)],
  xAxis: [
    axisX(0, 'bottom', 4, 16, true, true),
    axisX(0, 'top', 4, 16, true, false),
    axisX(1, 'bottom', 20, 8, false, false),
    axisX(1, 'top', 20, 8, false, false)
  ],
  yAxis: [
    axisY(0, 'left', 3, 16, true, true),
    axisY(0, 'right', 3, 16, true, false),
    axisY(1, 'left', 14, 8, false, false),
    axisY(1, 'right', 14, 8, false, false)
  ],
  series: [
    { type: 'scatter', xAxisIndex: 0, yAxisIndex: 0, data: stars, symbol: 'circle', symbolSize: 5,
      itemStyle: { color: '#000' }, silent: true, z: 2 },
    { type: 'scatter', xAxisIndex: 0, yAxisIndex: 0, data: redClump, symbol: 'circle', symbolSize: 16,
      itemStyle: { color: '#ff0000' }, silent: true, z: 5 },
    { type: 'scatter', xAxisIndex: 0, yAxisIndex: 0, data: source, symbol: 'circle', symbolSize: 16,
      itemStyle: { color: '#0000ff' }, silent: true, z: 5 },
    { type: 'scatter', xAxisIndex: 0, yAxisIndex: 0, data: tickMarks, symbol: 'rect', clip: false,
      itemStyle: { color: '#000', opacity: 1 }, silent: true, z: 8 }
  ],
  graphic: [
    { type: 'text', x: 357, y: 13, z: 10, style: { text: titleText, font: '21px ' + FONT, fill: '#000', align: 'center', verticalAlign: 'middle', textAlign: 'center', textVerticalAlign: 'middle' } },
    { type: 'text', x: 189, y: 68, z: 10, style: { text: legendRed, font: '24px ' + FONT, fill: '#ff0000', align: 'left', verticalAlign: 'middle', textAlign: 'left', textVerticalAlign: 'middle' } },
    { type: 'text', x: 189, y: 97, z: 10, style: { text: legendBlue, font: '24px ' + FONT, fill: '#0000ff', align: 'left', verticalAlign: 'middle', textAlign: 'left', textVerticalAlign: 'middle' } },
    { type: 'text', x: 338, y: 600, z: 10, style: { text: xName, font: '22px ' + FONT, fill: '#000', align: 'center', verticalAlign: 'middle', textAlign: 'center', textVerticalAlign: 'middle' } },
    { type: 'text', x: 9, y: 290, rotation: Math.PI / 2, z: 10, style: { text: yName, font: '22px ' + FONT, fill: '#000', align: 'center', verticalAlign: 'middle', textAlign: 'center', textVerticalAlign: 'middle' } }
  ]
});
</script>
</body></html>
